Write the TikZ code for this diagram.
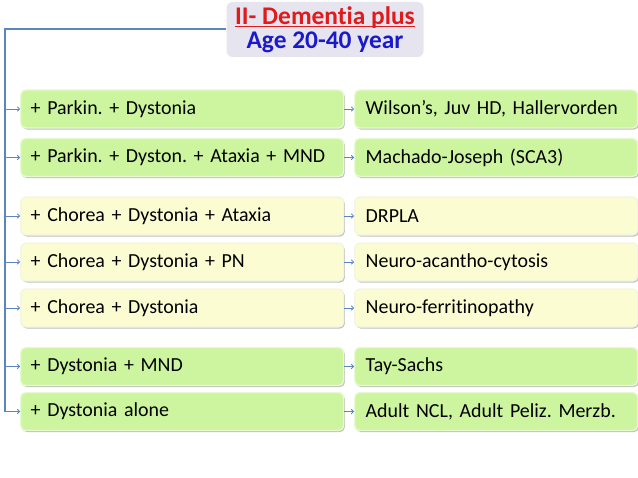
\documentclass[tikz,border=0pt]{standalone}
\usepackage{fontspec}
\setmainfont{Carlito}[Ligatures={NoCommon}]
\frenchspacing
\usetikzlibrary{shadows,arrows.meta}
\definecolor{gfill}{HTML}{CDF5A0}
\definecolor{gline}{HTML}{E6F9D0}
\definecolor{yfill}{HTML}{FCFCD2}
\definecolor{yline}{HTML}{F4F4E4}
\definecolor{lineblue}{HTML}{5A85BE}
\definecolor{tfill}{HTML}{E6E4EF}
\definecolor{ttred}{HTML}{E01B1B}
\definecolor{ttblue}{HTML}{1A1ACC}
\newcommand\myul[1]{\setbox0\hbox{#1}\rlap{\rule[-2.6bp]{\wd0}{1.3bp}}\box0}
\begin{document}
\begin{tikzpicture}[x=1bp,y=-1bp,
  base/.style={rounded corners=5bp, line width=1.4bp, minimum height=38bp, anchor=west,
    align=left, font=\fontsize{20}{24}\selectfont,
    drop shadow={shadow xshift=1.2bp, shadow yshift=-1.6bp, opacity=0.35, fill=black!70}},
  green/.style={base, fill=gfill, draw=gline},
  yellow/.style={base, fill=yfill, draw=yline},
  lbox/.style={text width=303bp, inner xsep=10bp},
  rbox/.style={text width=261bp, inner xsep=11bp},
  conn/.style={draw=lineblue, line width=0.8bp, -{To[length=3bp,width=5bp]}},
]
\useasboundingbox (0,0) rectangle (638,478);
\node[fill=tfill, rounded corners=6bp, minimum width=197bp, minimum height=55bp, align=center,
  inner sep=0pt, font=\bfseries\fontsize{25.5}{24}\selectfont] (title) at (325,29.5)
  {\textcolor{ttred}{\myul{II- Dementia plus}}\\ \textcolor{ttblue}{Age 20-40 year}};
\coordinate (trunk) at (5,29);
\foreach \n/\y/\st/\lt/\rt in {
  1/109/green/{+ Parkin. + Dystonia}/{Wilson’s, Juv HD, Hallervorden},
  2/157.5/green/{+ Parkin. + Dyston. + Ataxia + MND}/{Machado-Joseph (SCA3)},
  3/216/yellow/{+ Chorea + Dystonia + Ataxia}/{DRPLA},
  4/262/yellow/{+ Chorea + Dystonia + PN}/{Neuro-acantho-cytosis},
  5/308/yellow/{+ Chorea + Dystonia}/{Neuro-ferritinopathy},
  6/366.5/green/{+ Dystonia + MND}/{Tay-Sachs},
  7/411.5/green/{+ Dystonia alone}/{Adult NCL, Adult Peliz. Merzb.}}{
  \node[\st, lbox] (l\n) at (20,\y) {\lt};
  \node[\st, rbox] (r\n) at (354,\y) {\rt};
}
\draw[lineblue, line width=1.2bp] (title.west |- trunk) -- (trunk) -- (trunk |- l7.west);
\foreach \n in {1,...,7}{
  \draw[conn] (trunk |- l\n.west) -- (l\n.west);
  \draw[conn] (l\n.east) -- (r\n.west);
}
\end{tikzpicture}
\end{document}
